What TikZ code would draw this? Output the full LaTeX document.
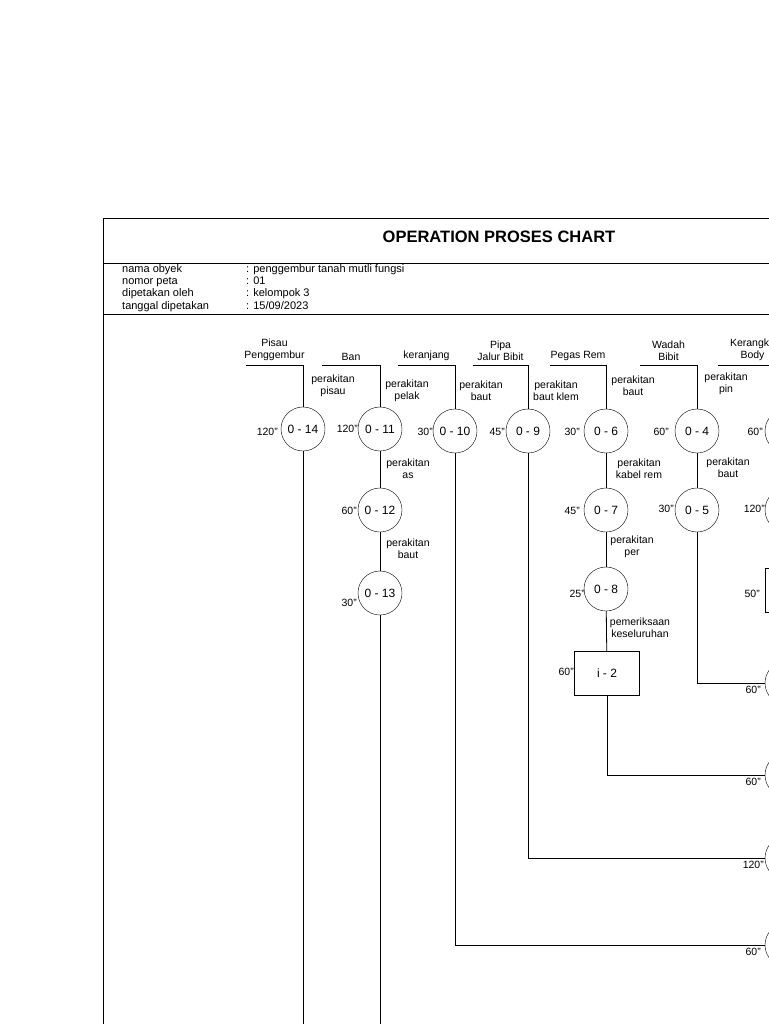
\documentclass[tikz,border=0pt]{standalone}
\usepackage{fontspec}
\setmainfont{Liberation Sans}
\begin{document}
\begin{tikzpicture}[x=1pt,y=-1pt,
  op/.style={draw,circle,minimum size=44pt,inner sep=0pt,font=\fontsize{12}{13}\selectfont,fill=white},
  ins/.style={draw,rectangle,minimum width=65pt,minimum height=44pt,inner sep=0pt,font=\fontsize{12}{13}\selectfont,fill=white},
  lb/.style={font=\fontsize{10.5}{12}\selectfont,align=center,inner sep=0pt},
  tm/.style={font=\fontsize{10.5}{12}\selectfont,inner sep=0pt,anchor=east},
  ln/.style={draw,line width=0.8pt}]
\useasboundingbox (0,0) rectangle (768,1024);
\fill[white] (0,0) rectangle (768,1024);
\draw[line width=0.8pt] (103,1030) -- (103,218) -- (780,218);
\draw[line width=0.8pt] (103,263) -- (780,263);
\draw[line width=0.8pt] (103,314) -- (780,314);
\node[font=\bfseries\fontsize{16.5}{18}\selectfont] (title) at (499,237) {OPERATION PROSES CHART};
\node[lb,anchor=north west,align=left,font=\fontsize{11}{12.3}\selectfont] (info1) at (122,264) {nama obyek\\nomor peta\\dipetakan oleh\\tanggal dipetakan};
\node[lb,anchor=north west,align=left,font=\fontsize{11}{12.3}\selectfont] (info2) at (246,264) {: penggembur tanah mutli fungsi\\: 01\\: kelompok 3\\: 15/09/2023};
% operations
\node[op] (o14) at (303,429) {0 - 14};
\node[op] (o11) at (380,429) {0 - 11};
\node[op] (o10) at (455,431) {0 - 10};
\node[op] (o9) at (528,431) {0 - 9};
\node[op] (o6) at (606,431) {0 - 6};
\node[op] (o4) at (697,431) {0 - 4};
\node[op] (r1) at (787,431) {};
\node[op] (o12) at (380,510) {0 - 12};
\node[op] (o13) at (380,593) {0 - 13};
\node[op] (o7) at (606,510) {0 - 7};
\node[op] (o8) at (606,589) {0 - 8};
\node[op] (o5) at (697,510) {0 - 5};
\node[op] (r2) at (787,510) {};
\node[ins] (i2) at (607,673) {i - 2};
\node[ins] (r3) at (798,590) {};
\node[op] (r4) at (787,683) {};
\node[op] (r5) at (787,775) {};
\node[op] (r6) at (787,858) {};
\node[op] (r7) at (787,945) {};
\node[op] (r8) at (787,1040) {};
% materials
\foreach \n/\x/\a/\t in {m14/303/246/{Pisau\\Penggembur},m11/380/322/{Ban},m10/455/398/{keranjang},m9/528/473/{Pipa\\Jalur Bibit},m6/606/550/{Pegas Rem},m4/697/640/{Wadah\\Bibit},mr/787/718/{Kerangka\\Body}}{
  \coordinate (\n a) at (\a,365); \coordinate (\n b) at (\x,365);
  \node[lb,anchor=south] (\n t) at ({(\a+\x)/2},361) {\t};
}
\draw[ln] (m14a) -- (m14b) -- (o14);
\draw[ln] (m11a) -- (m11b) -- (o11);
\draw[ln] (m10a) -- (m10b) -- (o10);
\draw[ln] (m9a) -- (m9b) -- (o9);
\draw[ln] (m6a) -- (m6b) -- (o6);
\draw[ln] (m4a) -- (m4b) -- (o4);
\draw[ln] (mra) -- (mrb) -- (r1);
\coordinate (b14) at (303,1030); \coordinate (b13) at (380,1030);
\draw[ln] (o14) -- (b14);
\draw[ln] (o11) -- (o12); \draw[ln] (o12) -- (o13); \draw[ln] (o13) -- (b13);
\draw[ln] (o6) -- (o7); \draw[ln] (o7) -- (o8); \draw[ln] (o8) -- (i2);
\draw[ln] (o4) -- (o5);
\draw[ln] (r1) -- (r2); \draw[ln] (r2) -- (r3);
\draw[ln] (o5) |- (r4);
\draw[ln] (i2) |- (r5);
\draw[ln] (o9) |- (r6);
\draw[ln] (o10) |- (r7);
% step labels
\node[lb] (l1) at (333,386) {perakitan\\pisau};
\node[lb] (l2) at (407,391) {perakitan\\pelak};
\node[lb] (l3) at (481,391) {perakitan\\baut};
\node[lb] (l4) at (556,391) {perakitan\\baut klem};
\node[lb] (l5) at (633,386) {perakitan\\baut};
\node[lb] (l6) at (726,384) {perakitan\\pin};
\node[lb] (l7) at (408,469) {perakitan\\as};
\node[lb] (l8) at (408,549) {perakitan\\baut};
\node[lb] (l9) at (639,469) {perakitan\\kabel rem};
\node[lb] (l10) at (632,547) {perakitan\\per};
\node[lb] (l11) at (640,628) {pemeriksaan\\keseluruhan};
\node[lb] (l12) at (728,468) {perakitan\\baut};
% times
\node[tm] (t14) at (278,432) {120"};
\node[tm] (t11) at (358,429) {120"};
\node[tm] (t10) at (433,432) {30"};
\node[tm] (t9) at (505,432) {45"};
\node[tm] (t6) at (580,432) {30"};
\node[tm] (t4) at (669,432) {60"};
\node[tm] (tr1) at (763,432) {60"};
\node[tm] (t12) at (357,511) {60"};
\node[tm] (t13) at (357,603) {30"};
\node[tm] (t7) at (580,511) {45"};
\node[tm] (t8) at (585,594) {25"};
\node[tm] (t5) at (674,509) {30"};
\node[tm] (tr2) at (765,509) {120"};
\node[tm] (ti2) at (574,672) {60"};
\node[tm] (tr3) at (760,594) {50"};
\node[tm] (tr4) at (761,690) {60"};
\node[tm] (tr5) at (761,782) {60"};
\node[tm] (tr6) at (764,865) {120"};
\node[tm] (tr7) at (761,952) {60"};
\end{tikzpicture}
\end{document}
